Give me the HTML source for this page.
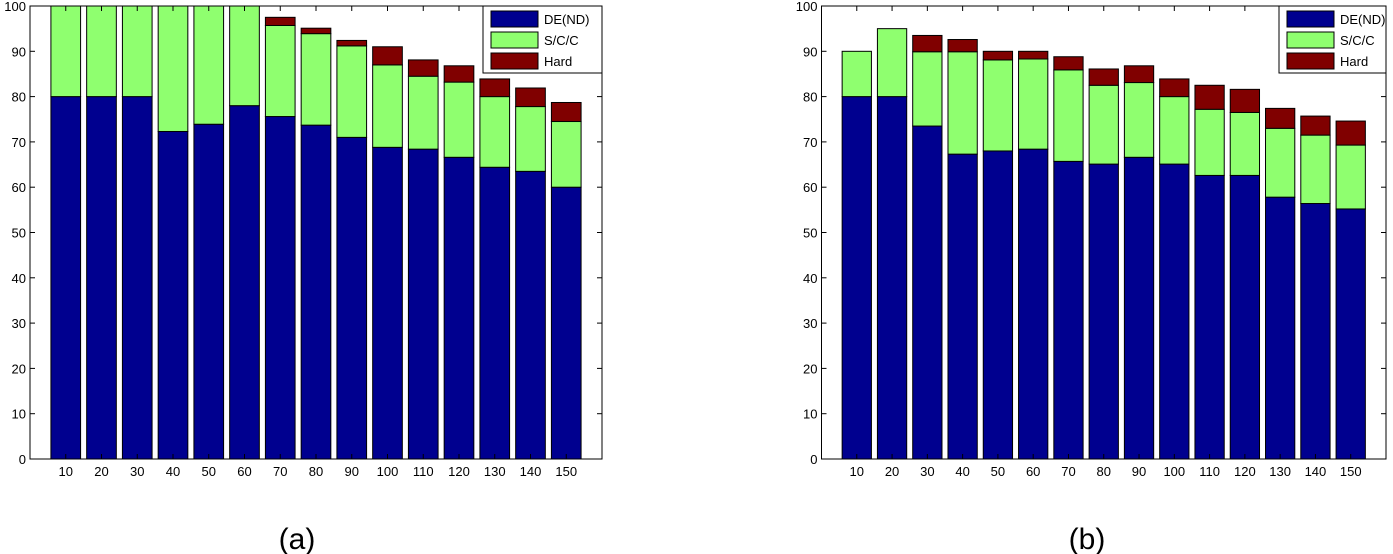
<!DOCTYPE html>
<html><head><meta charset="utf-8"><style>
html,body{margin:0;padding:0;background:#fff;}
svg{display:block;font-family:"Liberation Sans",Arial,sans-serif;}
</style></head><body>
<svg id="fig" width="1393" height="554" viewBox="0 0 1393 554"></svg>
<script>
const categories = ["10","20","30","40","50","60","70","80","90","100","110","120","130","140","150"];
const yTicks = [0,10,20,30,40,50,60,70,80,90,100];
const seriesNames = ["DE(ND)","S/C/C","Hard"];
const deA = [80,80,80,72.3,73.9,78,75.6,73.7,71,68.8,68.4,66.6,64.4,63.5,60];
const sccA = [20,20,20,27.7,26.1,22,20.1,20.2,20.2,18.2,16.1,16.6,15.6,14.3,14.5];
const hardA = [0,0,0,0,0,0,1.8,1.2,1.2,4,3.6,3.6,3.9,4.1,4.2];
const deB = [80,80,73.5,67.3,68,68.4,65.7,65.1,66.6,65.1,62.6,62.6,57.8,56.4,55.2];
const sccB = [10,15,16.4,22.6,20.1,19.9,20.2,17.4,16.5,14.9,14.6,13.9,15.2,15.1,14.1];
const hardB = [0,0,3.6,2.7,1.9,1.7,2.9,3.6,3.7,3.9,5.3,5.1,4.4,4.2,5.3];
const colors = ["#00008f","#8fff6f","#800000"];
const NS="http://www.w3.org/2000/svg";
const svg=document.getElementById('fig');
function mk(tag,attrs,parent){const e=document.createElementNS(NS,tag);for(const k in attrs)e.setAttribute(k,attrs[k]);(parent||svg).appendChild(e);return e;}
function chart(id,left,right,series,legendX,caption,capX){
  const top=6,bottom=459;
  const g=mk('g',{});
  
  
  const n=categories.length;
  const step=(right-left)/(n+1);
  const xS=i=>left+step*(i+1);
  const yS=v=>bottom-(bottom-top)*v/100;
  const bw=step*0.83;
  mk('rect',{x:left,y:top,width:right-left,height:bottom-top,fill:'#fff'},g);
  for(let i=0;i<n;i++){
    let base=0;
    for(let s=0;s<3;s++){
      const v=series[s][i];
      if(v<=0){continue;}
      const r=mk('rect',{x:xS(i)-bw/2,y:yS(base+v),width:bw,height:yS(base)-yS(base+v),fill:colors[s],stroke:'#000','stroke-width':1},g);
      
      
      base+=v;
    }
  }
  mk('rect',{x:left,y:top,width:right-left,height:bottom-top,fill:'none',stroke:'#000','stroke-width':1},g);
  yTicks.forEach(t=>{
    const y=yS(t);
    mk('line',{x1:left,x2:left+5,y1:y,y2:y,stroke:'#000'},g);
    mk('line',{x1:right,x2:right-5,y1:y,y2:y,stroke:'#000'},g);
    const tx=mk('text',{x:left-4,y:y+5,'text-anchor':'end','font-size':13},g);
    tx.textContent=t;
    
    
  });
  categories.forEach((c,i)=>{
    const x=xS(i);
    mk('line',{x1:x,x2:x,y1:bottom,y2:bottom-5,stroke:'#000'},g);
    mk('line',{x1:x,x2:x,y1:top,y2:top+5,stroke:'#000'},g);
    const tx=mk('text',{x:x,y:bottom+17,'text-anchor':'middle','font-size':13},g);
    tx.textContent=c;
    
    
  });
  const lg=mk('g',{},g);
  
  
  mk('rect',{x:legendX,y:top,width:right-legendX,height:67,fill:'#fff',stroke:'#000'},lg);
  seriesNames.forEach((nm,s)=>{
    const cy=top+13+s*21;
    const p=mk('rect',{x:legendX+8,y:cy-8,width:47,height:16,fill:colors[s],stroke:'#000'},lg);
    
    
    const tx=mk('text',{x:legendX+61,y:cy+5,'font-size':13},lg);
    tx.textContent=nm;
    
    
  });
  const cap=mk('text',{x:capX,y:549,'text-anchor':'middle','font-size':30},g);
  cap.textContent=caption;
  
  
}
chart('a',30,602,[deA,sccA,hardA],483,'(a)',297);
chart('b',821.5,1386,[deB,sccB,hardB],1279,'(b)',1087);
</script>
</body></html>
